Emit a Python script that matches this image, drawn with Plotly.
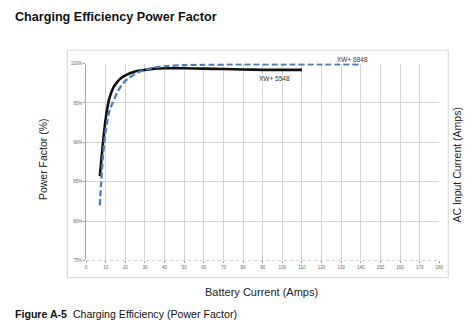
import plotly.graph_objects as go

# Battery current (A) and power factor (%) for the two inverter/charger models
amps_5548 = [7, 8, 9, 10, 11, 12, 14, 16, 18, 20, 25, 30, 35, 40, 50, 60, 70, 80, 90, 100, 110]
pf_5548 = [85.7, 88.4, 90.9, 93.0, 94.6, 95.7, 97.0, 97.7, 98.2, 98.5, 99.0, 99.2, 99.35, 99.4, 99.4, 99.35, 99.3, 99.25, 99.2, 99.2, 99.2]

amps_6848 = [7, 7.7, 8.5, 9.3, 10, 11, 12, 13.5, 16, 18, 20, 22, 25, 30, 35, 40, 50, 60, 80, 100, 120, 140]
pf_6848 = [82.0, 85.0, 88.0, 90.0, 91.5, 93.0, 94.1, 95.0, 96.4, 97.2, 97.8, 98.2, 98.7, 99.2, 99.5, 99.65, 99.8, 99.85, 99.9, 99.9, 99.9, 99.9]

x_ticks = list(range(0, 181, 10))
y_ticks = [75, 80, 85, 90, 95, 100]
y_tick_labels = [f"{v}%" for v in y_ticks]

W, H = 474, 327
FONT = "Liberation Sans, Arial, sans-serif"
GRID = "#d4d4d4"


def px_x(p):
    return p / W


def px_y(p):
    return 1 - p / H


fig = go.Figure()

fig.add_trace(go.Scatter(
    x=amps_5548, y=pf_5548, mode="lines", name="XW+ 5548",
    line=dict(color="#111111", width=2.6, shape="spline", smoothing=0.6),
))
fig.add_trace(go.Scatter(
    x=amps_6848, y=pf_6848, mode="lines", name="XW+ 6848",
    line=dict(color="#4a7ebb", width=2.3, dash="6px,3px", shape="spline", smoothing=0.6),
))

# empty secondary axis on the right for AC input current
fig.add_trace(go.Scatter(x=[None], y=[None], yaxis="y2", showlegend=False))

fig.add_annotation(x=127, y=pf_6848[-1], xref="x", yref="y",
                   text="XW+ 6848", showarrow=False, xanchor="left", yanchor="bottom",
                   yshift=-1,
                   font=dict(family=FONT, size=6.5, color="#333333"))
fig.add_annotation(x=96, y=pf_5548[-3], xref="x", yref="y",
                   text="XW+ 5548", showarrow=False, xanchor="center", yanchor="top",
                   yshift=-3,
                   font=dict(family=FONT, size=6.5, color="#333333"))

# outer chart frame
fig.add_shape(type="rect", xref="paper", yref="paper",
              x0=px_x(67), x1=px_x(452), y0=px_y(280), y1=px_y(49),
              line=dict(color="#dcdcdc", width=1.2), layer="below")
# dotted baseline along the category axis
fig.add_shape(type="line", xref="x", yref="y", x0=0, x1=180, y0=75, y1=75,
              line=dict(color="#9a9a9a", width=1, dash="dot"))

# titles and captions
fig.add_annotation(x=px_x(12), y=px_y(15), xref="paper", yref="paper",
                   text="<b>Charging Efficiency Power Factor</b>", showarrow=False,
                   xanchor="left", yanchor="middle",
                   font=dict(family=FONT, size=12.6, color="#111111"))
fig.add_annotation(x=px_x(12), y=px_y(317), xref="paper", yref="paper",
                   text="<b>Figure A-5</b>  Charging Efficiency (Power Factor)", showarrow=False,
                   xanchor="left", yanchor="middle",
                   font=dict(family=FONT, size=10.6, color="#111111"))
fig.add_annotation(x=px_x(263), y=px_y(295), xref="paper", yref="paper",
                   text="Battery Current (Amps)", showarrow=False,
                   xanchor="center", yanchor="middle",
                   font=dict(family=FONT, size=11, color="#222222"))
fig.add_annotation(x=px_x(42), y=px_y(160), xref="paper", yref="paper",
                   text="Power Factor (%)", showarrow=False, textangle=-90,
                   xanchor="center", yanchor="middle",
                   font=dict(family=FONT, size=10.5, color="#222222"))
fig.add_annotation(x=px_x(461), y=px_y(165), xref="paper", yref="paper",
                   text="AC Input Current (Amps)", showarrow=False, textangle=-90,
                   xanchor="center", yanchor="middle",
                   font=dict(family=FONT, size=10.5, color="#222222"))

fig.update_layout(
    width=W, height=H,
    margin=dict(l=0, r=0, t=0, b=0),
    paper_bgcolor="white", plot_bgcolor="white",
    showlegend=False,
    xaxis=dict(
        domain=[px_x(86), px_x(443)], range=[0, 180],
        tickmode="array", tickvals=x_ticks, ticktext=[str(v) for v in x_ticks],
        showgrid=True, gridcolor=GRID, gridwidth=1.3,
        zeroline=False, showline=False,
        ticks="outside", ticklen=2, tickcolor="#9a9a9a",
        tickfont=dict(family=FONT, size=4.5, color="#666666"),
        anchor="y",
    ),
    yaxis=dict(
        domain=[px_y(262.5), px_y(62.5)], range=[75, 100],
        tickmode="array", tickvals=y_ticks, ticktext=y_tick_labels,
        showgrid=True, gridcolor=GRID, gridwidth=1.3,
        zeroline=False, showline=True, linecolor="#a8a8a8", linewidth=1,
        ticks="outside", ticklen=2, tickcolor="#9a9a9a",
        tickfont=dict(family=FONT, size=4.5, color="#666666"),
        anchor="x",
    ),
    yaxis2=dict(
        overlaying="y", side="right", showgrid=False, showticklabels=False,
        zeroline=False, showline=False, range=[0, 1],
    ),
)

fig.write_html("out.html")
